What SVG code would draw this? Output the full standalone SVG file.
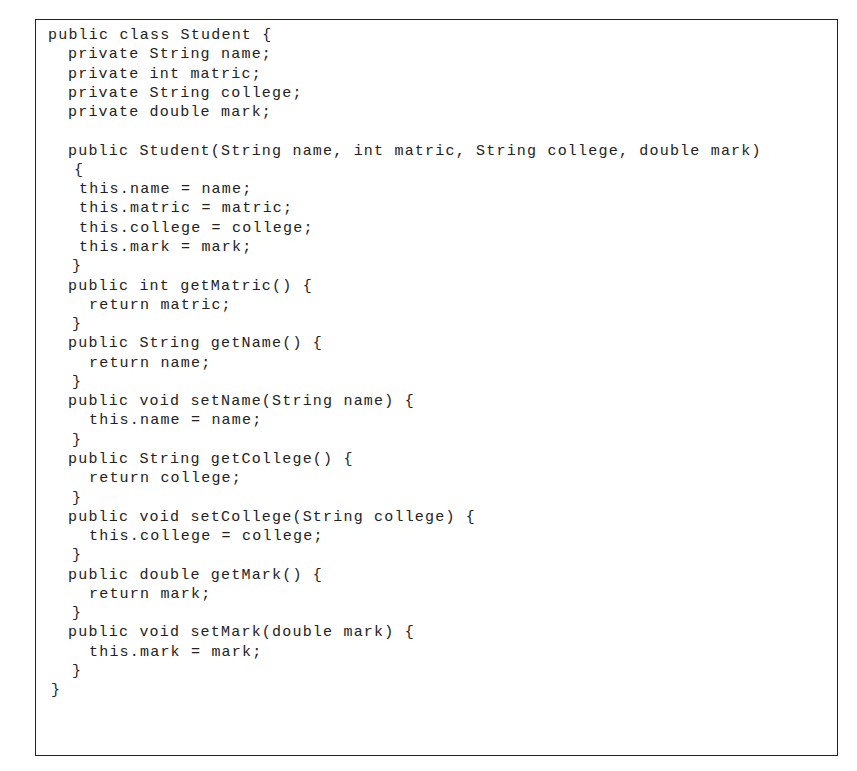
<svg xmlns="http://www.w3.org/2000/svg" width="857" height="771" viewBox="0 0 857 771">
<style>
text{font-family:"Liberation Mono","Courier New",monospace;font-size:15px;letter-spacing:1.2px;fill:#222;white-space:pre}
</style>
<rect x="0" y="0" width="857" height="771" fill="#fff"/>
<rect x="35.5" y="19.5" width="802" height="736" fill="none" stroke="#222" stroke-width="1"/>
<g id="code">
<text x="48" y="39">public class Student {</text>
<text x="68" y="58.3">private String name;</text>
<text x="68" y="77.5">private int matric;</text>
<text x="68" y="96.8">private String college;</text>
<text x="68" y="116.1">private double mark;</text>
<text x="68" y="154.6">public Student(String name, int matric, String college, double mark)</text>
<text x="74" y="173.9">{</text>
<text x="79" y="193.2">this.name = name;</text>
<text x="79" y="212.4">this.matric = matric;</text>
<text x="79" y="231.7">this.college = college;</text>
<text x="79" y="251">this.mark = mark;</text>
<text x="72" y="270.2">}</text>
<text x="68" y="289.5">public int getMatric() {</text>
<text x="89" y="308.8">return matric;</text>
<text x="72" y="328.1">}</text>
<text x="68" y="347.3">public String getName() {</text>
<text x="89" y="366.6">return name;</text>
<text x="72" y="385.9">}</text>
<text x="68" y="405.1">public void setName(String name) {</text>
<text x="89" y="424.4">this.name = name;</text>
<text x="72" y="443.7">}</text>
<text x="68" y="463">public String getCollege() {</text>
<text x="89" y="482.2">return college;</text>
<text x="72" y="501.5">}</text>
<text x="68" y="520.8">public void setCollege(String college) {</text>
<text x="89" y="540">this.college = college;</text>
<text x="72" y="559.3">}</text>
<text x="68" y="578.6">public double getMark() {</text>
<text x="89" y="597.9">return mark;</text>
<text x="72" y="617.1">}</text>
<text x="68" y="636.4">public void setMark(double mark) {</text>
<text x="89" y="655.7">this.mark = mark;</text>
<text x="72" y="674.9">}</text>
<text x="51" y="694.2">}</text>
</g>
</svg>
